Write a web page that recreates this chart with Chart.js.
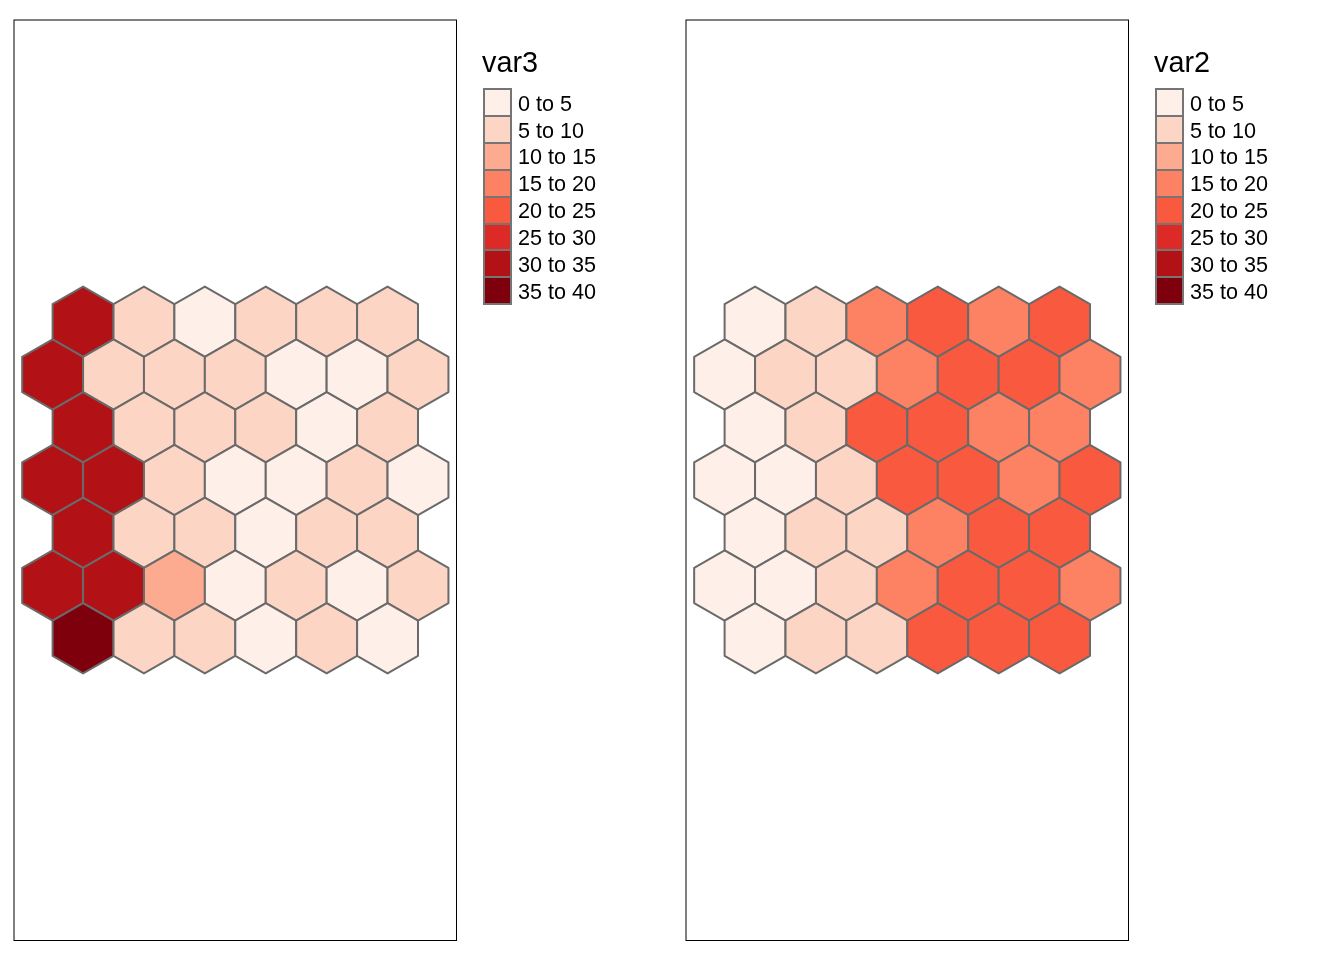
<!DOCTYPE html>
<html>
<head>
<meta charset="utf-8">
<title>var3 / var2 hexagon maps</title>
<script src="https://cdn.jsdelivr.net/npm/chart.js@4"></script>
<style>
  html, body { margin: 0; padding: 0; background: #fff; }
  body { position: relative; width: 1344px; height: 960px; overflow: hidden; font-family: "Liberation Sans", sans-serif; color: #000; }
  .panel { position: absolute; top: 0; width: 672px; height: 960px; }
  .panel canvas { position: absolute; left: 0; top: 0; }
  .legend-title { position: absolute; left: 482px; top: 46px; font-size: 28.8px; line-height: 33px; }
  .swatch { position: absolute; left: 483px; width: 29px; box-sizing: border-box; border: 2px solid #757575; }
  .legend-label { position: absolute; left: 518px; font-size: 21.6px; line-height: 26px; white-space: nowrap; }
</style>
</head>
<body>
<div class="panel" id="panel-left" style="left:0"><canvas id="chart-left" width="672" height="960"></canvas></div>
<div class="panel" id="panel-right" style="left:672px"><canvas id="chart-right" width="672" height="960"></canvas></div>

<script>
// --- Data ---
const classLabels = ['0 to 5', '5 to 10', '10 to 15', '15 to 20', '20 to 25', '25 to 30', '30 to 35', '35 to 40'];
const classColors = ['#FEF0E9', '#FCD5C5', '#FCAB90', '#FC8263', '#F95A3F', '#DE2A26', '#B21116', '#7F000D'];
const classWidth = 5;

// one list per hexagon row, top to bottom (values estimated inside their class)
const var3Rows = [
  [32, 7, 3, 7, 7, 7],
  [32, 7, 7, 7, 3, 3, 7],
  [32, 7, 7, 7, 3, 7],
  [32, 32, 7, 3, 3, 7, 3],
  [32, 7, 7, 3, 7, 7],
  [32, 32, 12, 3, 7, 3, 7],
  [37, 7, 7, 3, 7, 3]
];
const var2Rows = [
  [3, 7, 17, 22, 17, 22],
  [3, 7, 7, 17, 22, 22, 17],
  [3, 7, 22, 22, 17, 17],
  [3, 3, 7, 22, 22, 17, 22],
  [3, 7, 7, 17, 22, 22],
  [3, 3, 7, 17, 22, 22, 17],
  [3, 7, 7, 22, 22, 22]
];

// --- Helpers ---
const colorFor = (value) => classColors[Math.floor(value / classWidth)];

// short rows sit half a hexagon to the right
const rowsToPoints = (rows) => rows.flatMap((row, r) =>
  row.map((value, c) => ({ x: c + (row.length === 6 ? 0.5 : 0), y: r, value }))
);

// --- Plugins ---
const hexagonPlugin = {
  id: 'hexagons',
  afterDatasetsDraw(chart) {
    const { ctx, scales: { x, y } } = chart;
    const radius = (x.getPixelForValue(1) - x.getPixelForValue(0)) / Math.sqrt(3);
    const points = chart.data.datasets[0].data;
    ctx.save();
    ctx.lineWidth = 2;
    ctx.strokeStyle = '#6a6a6a';
    ctx.lineJoin = 'round';
    chart.getDatasetMeta(0).data.forEach((el, i) => {
      ctx.beginPath();
      for (let k = 0; k < 6; k++) {
        const angle = Math.PI / 2 + k * Math.PI / 3;
        ctx.lineTo(el.x + radius * Math.cos(angle), el.y - radius * Math.sin(angle));
      }
      ctx.closePath();
      ctx.fillStyle = colorFor(points[i].value);
      ctx.fill();
      ctx.stroke();
    });
    ctx.restore();
  }
};

const framePlugin = {
  id: 'frame',
  afterDraw(chart) {
    const { ctx, chartArea: a } = chart;
    ctx.save();
    ctx.strokeStyle = '#000';
    ctx.lineWidth = 1;
    ctx.strokeRect(a.left, a.top, a.width + 0.5, a.height + 0.5);
    ctx.restore();
  }
};

// --- Render Functions ---
const renderChart = (canvasId, rows) => {
  new Chart(document.getElementById(canvasId), {
    type: 'scatter',
    data: { datasets: [{ data: rowsToPoints(rows), pointRadius: 0, pointHoverRadius: 0 }] },
    options: {
      responsive: false,
      animation: false,
      events: [],
      layout: { padding: { left: 14, right: 216, top: 20, bottom: 20 } },
      plugins: { legend: { display: false }, tooltip: { enabled: false } },
      scales: {
        x: { type: 'linear', display: false, min: -0.634, max: 6.624 },
        y: { type: 'linear', display: false, reverse: true, min: -5.72, max: 11.72 }
      }
    },
    plugins: [hexagonPlugin, framePlugin]
  });
};

const renderLegend = (panelId, title) => {
  const panel = document.getElementById(panelId);
  const rowHeight = 26.9;
  let html = `<div class="legend-title">${title}</div>`;
  classLabels.forEach((label, i) => {
    const top = Math.round(88 + i * rowHeight);
    const bottom = Math.round(88 + (i + 1) * rowHeight) + 1;
    html += `<div class="swatch" style="top:${top}px;height:${bottom - top + 1}px;background:${classColors[i]}"></div>`;
    html += `<div class="legend-label" style="top:${Math.round(90.6 + i * rowHeight)}px">${label}</div>`;
  });
  panel.insertAdjacentHTML('beforeend', html);
};

renderChart('chart-left', var3Rows);
renderChart('chart-right', var2Rows);
renderLegend('panel-left', 'var3');
renderLegend('panel-right', 'var2');
</script>
</body>
</html>
